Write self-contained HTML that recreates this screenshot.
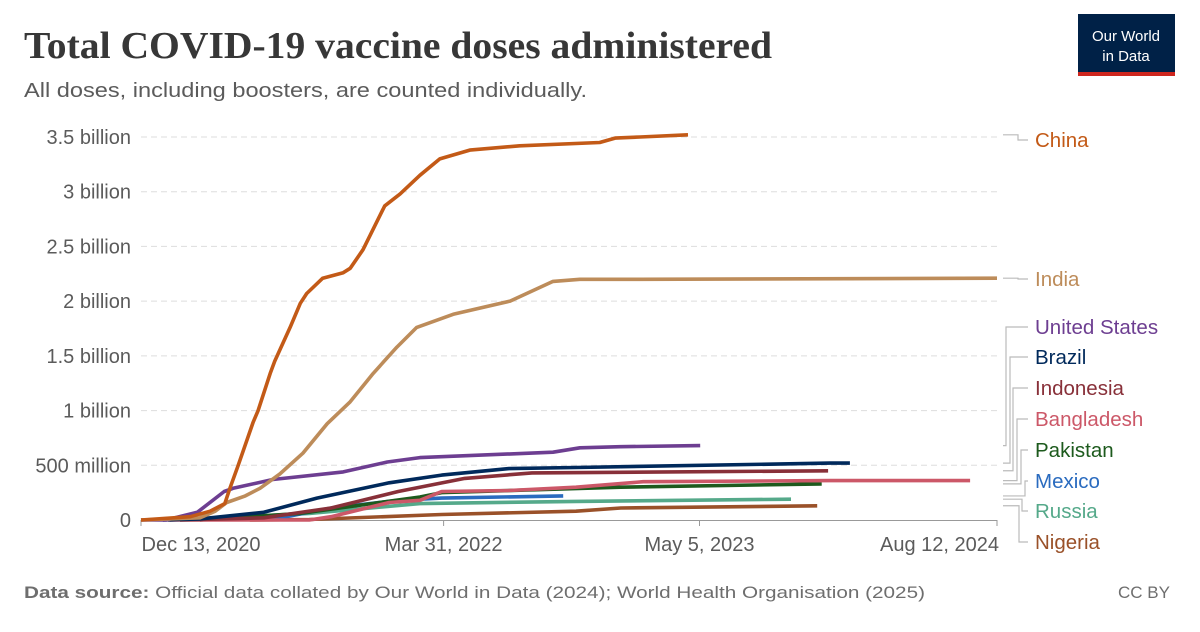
<!DOCTYPE html>
<html><head><meta charset="utf-8">
<style>
body{margin:0;background:#fff;width:1200px;height:627px;overflow:hidden;font-family:"Liberation Sans",sans-serif;}
svg text{font-family:"Liberation Sans",sans-serif;}
</style></head>
<body>
<svg id="chart" width="1200" height="627" xmlns="http://www.w3.org/2000/svg">
<text x="24" y="58" font-weight="bold" font-size="38" fill="#373737" textLength="748" lengthAdjust="spacingAndGlyphs" style="font-family:'Liberation Serif',serif">Total COVID-19 vaccine doses administered</text>
<text x="24" y="97" font-size="20" fill="#5b5b5b" textLength="563" lengthAdjust="spacingAndGlyphs">All doses, including boosters, are counted individually.</text>
<g>
<rect x="1078" y="14" width="97" height="62" fill="#002147"/>
<rect x="1078" y="72" width="97" height="4" fill="#ce261e"/>
<text x="1126" y="41" font-size="15" fill="#fff" text-anchor="middle">Our World</text>
<text x="1126" y="61" font-size="15" fill="#fff" text-anchor="middle">in Data</text>
</g>
<g id="grid"></g>
<g id="yaxis"></g>
<g id="xaxis"></g>
<g id="series"></g>
<g id="labels"></g>
<text x="24" y="598" font-size="17" fill="#6e6e6e" textLength="901" lengthAdjust="spacingAndGlyphs"><tspan font-weight="bold">Data source:</tspan> Official data collated by Our World in Data (2024); World Health Organisation (2025)</text>
<text x="1170" y="598" font-size="17" fill="#6e6e6e" text-anchor="end">CC BY</text>
</svg>
<script>
const NS="http://www.w3.org/2000/svg";
// days since 2020-12-13
const yTicks=[0,0.5,1,1.5,2,2.5,3,3.5];
const yTickLabels=["0","500 million","1 billion","1.5 billion","2 billion","2.5 billion","3 billion","3.5 billion"];
const xTickDays=[0,473,873,1338];
const xTickLabels=["Dec 13, 2020","Mar 31, 2022","May 5, 2023","Aug 12, 2024"];
const names=["China","India","United States","Brazil","Indonesia","Bangladesh","Pakistan","Mexico","Russia","Nigeria"];
const colors=["#c35a17","#bd8c5a","#6d3e91","#00295b","#883039","#cc5868","#1d5a1d","#2a6bbf","#55a98a","#9a5129"];
const labelY=[140,279,327,357,388,419,450,481,511,542];
const chinaDays=[0,77,108,131,139,152,175,183,202,209,233,249,259,284,316,327,347,381,405,436,467,514,592,717,741,780,855];
const chinaVals=[0,0.03,0.08,0.15,0.29,0.5,0.89,1.0,1.34,1.45,1.76,1.98,2.07,2.21,2.26,2.3,2.47,2.87,2.98,3.15,3.30,3.38,3.42,3.45,3.49,3.50,3.52];
const indiaDays=[0,92,116,134,163,186,217,253,291,327,363,400,431,488,577,644,686,780,1338];
const indiaVals=[0,0.02,0.08,0.16,0.22,0.29,0.42,0.61,0.88,1.08,1.34,1.58,1.76,1.88,2.0,2.18,2.2,2.2,2.21];
const usDays=[0,39,88,130,144,206,316,385,436,644,686,749,874];
const usVals=[0,0,0.07,0.26,0.29,0.37,0.44,0.53,0.57,0.62,0.66,0.67,0.68];
const brazilDays=[34,92,192,275,388,470,575,680,1077,1108];
const brazilVals=[0,0.01,0.07,0.2,0.34,0.41,0.47,0.48,0.52,0.52];
const indonesiaDays=[61,192,297,402,506,611,1074];
const indonesiaVals=[0,0.02,0.11,0.26,0.38,0.43,0.45];
const bangladeshDays=[42,263,297,388,436,470,575,680,785,1077,1296];
const bangladeshVals=[0,0,0.03,0.16,0.18,0.26,0.27,0.30,0.35,0.36,0.36];
const pakistanDays=[92,249,436,470,750,1064];
const pakistanVals=[0,0.06,0.21,0.25,0.30,0.33];
const mexicoDays=[45,227,297,402,470,660];
const mexicoVals=[0,0.03,0.11,0.18,0.2,0.22];
const russiaDays=[45,263,436,680,1016];
const russiaVals=[0,0.06,0.15,0.17,0.19];
const nigeriaDays=[170,263,470,680,750,1057];
const nigeriaVals=[0,0.005,0.05,0.08,0.11,0.13];
const allDays=[chinaDays,indiaDays,usDays,brazilDays,indonesiaDays,bangladeshDays,pakistanDays,mexicoDays,russiaDays,nigeriaDays];
const allVals=[chinaVals,indiaVals,usVals,brazilVals,indonesiaVals,bangladeshVals,pakistanVals,mexicoVals,russiaVals,nigeriaVals];

const X0=141,X1=997,Y0=520,YTOP=137;
function xs(d){return X0+(d/1338)*(X1-X0);}
function ys(v){return Y0-(v/3.5)*(Y0-YTOP);}
function mk(tag,attrs,parent){const e=document.createElementNS(NS,tag);for(const k in attrs)e.setAttribute(k,attrs[k]);parent.appendChild(e);return e;}

const grid=document.getElementById('grid'),yax=document.getElementById('yaxis'),xax=document.getElementById('xaxis');
yTicks.forEach((v,i)=>{
  if(i>0){const l=mk('line',{x1:141,x2:997,y1:ys(v),y2:ys(v),stroke:'#ddd','stroke-dasharray':'6,4'},grid);
  
  }
  const t=mk('text',{x:131,y:ys(v)+7,'font-size':20,fill:'#5b5b5b','text-anchor':'end'},yax);
  t.textContent=yTickLabels[i];
  
  
});
mk('line',{x1:141,x2:997,y1:520.5,y2:520.5,stroke:'#999'},xax);
xTickDays.forEach((d,i)=>{
  mk('line',{x1:xs(d),x2:xs(d),y1:520,y2:526,stroke:'#999'},xax);
  const t=mk('text',{x:xs(d),y:551,'font-size':20,fill:'#5b5b5b','text-anchor':i==3?'end':'middle'},xax);
  if(i==3)t.setAttribute('x',xs(d)+2);
  if(i==0)t.setAttribute('x',xs(d)+60);
  t.textContent=xTickLabels[i];
  
  
});
const sg=document.getElementById('series'),lg=document.getElementById('labels');
const order=[9,8,7,6,5,4,3,2,1,0];
order.forEach(i=>{
  const pts=allDays[i].map((d,j)=>xs(d).toFixed(1)+','+ys(allVals[i][j]).toFixed(1)).join(' ');
  const p=mk('polyline',{points:pts,fill:'none',stroke:colors[i],'stroke-width':3.6,'stroke-linejoin':'round','stroke-linecap':'butt'},sg);
  
  
});
const bx=[1018,1018,1006,1010,1013,1017,1021,1025,1022,1019];
names.forEach((n,i)=>{
  const vals=allVals[i];const yv=ys(vals[vals.length-1]);
  const ly=labelY[i];
  mk('polyline',{points:`1003,${yv} ${bx[i]},${yv} ${bx[i]},${ly} 1028,${ly}`,fill:'none',stroke:'#bbb','stroke-width':1.2},lg);
  const t=mk('text',{x:1035,y:labelY[i]+7,'font-size':20.5,fill:colors[i]},lg);
  t.textContent=n;
  
  
});
</script>
</body></html>
